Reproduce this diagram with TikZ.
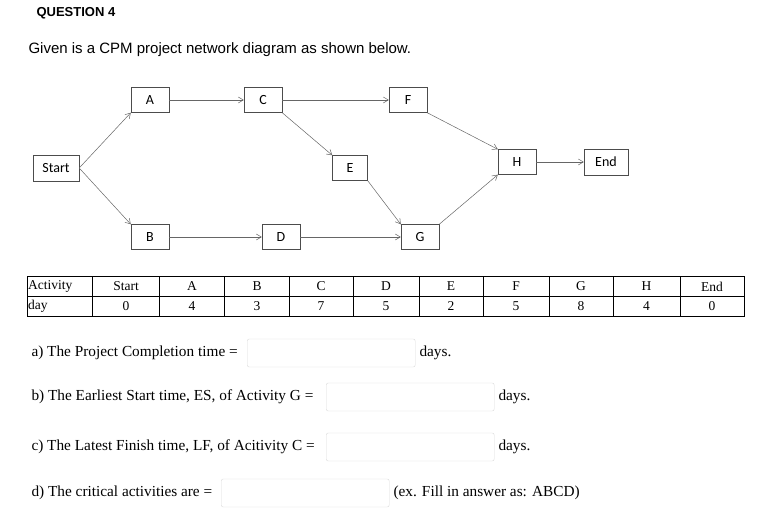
\documentclass[tikz,border=0pt]{standalone}
\usepackage{fontspec}
\setmainfont{Liberation Serif}
\newfontfamily\arialf{Liberation Sans}
\newfontfamily\calf{Carlito}
\usetikzlibrary{arrows.meta}
\begin{document}
\begin{tikzpicture}[x=1pt,y=-1pt,
  act/.style={draw=black!70,fill=white,minimum width=38pt,minimum height=25pt,font=\calf\fontsize{14}{16}\selectfont,inner sep=2pt},
  arr/.style={draw=black!60,-{Straight Barb[length=5pt,width=6pt]},line width=0.5pt},
  inbox/.style={draw=black!15,rounded corners=2pt,minimum width=168pt,minimum height=28pt,anchor=west},
  qtext/.style={anchor=west,font=\fontsize{15.3}{17}\selectfont},
  cell/.style={font=\fontsize{13.5}{15}\selectfont}]
\useasboundingbox (0,0) rectangle (761,524);
\node[anchor=west,font=\arialf\bfseries\fontsize{13}{15}\selectfont] (q) at (33,13) {QUESTION 4};
\node[anchor=west,font=\arialf\fontsize{15}{17}\selectfont] (g) at (25,50) {Given is a CPM project network diagram as shown below.};
% nodes
\node[act,minimum width=46pt,minimum height=26pt] (S) at (56,168) {Start};
\node[act] (A) at (150,100) {A};
\node[act] (C) at (263,100) {C};
\node[act] (F) at (408,100) {F};
\node[act,minimum width=35pt] (E) at (350,168) {E};
\node[act] (H) at (517,162) {H};
\node[act,minimum width=44pt,minimum height=26pt] (End) at (606,162) {End};
\node[act] (B) at (150,237) {B};
\node[act] (D) at (281,237) {D};
\node[act] (G) at (420,237) {G};
\draw[arr] (S.east) -- (A.south west);
\draw[arr] (S.east) -- (B.north west);
\draw[arr] (A) -- (C);
\draw[arr] (C) -- (F);
\draw[arr] (C.south east) -- (E.north west);
\draw[arr] (E.south east) -- (G.north west);
\draw[arr] (B) -- (D);
\draw[arr] (D) -- (G);
\draw[arr] (F.south east) -- (H.north west);
\draw[arr] (G.north east) -- (H.south west);
\draw[arr] (H) -- (End);
% table
\draw[line width=0.8pt] (27,276) rectangle (744,316);
\draw[line width=0.8pt] (27,296) -- (744,296);
\foreach \x in {92.5,159.5,224.5,289,353,419,483,549,613,680}
  \draw[line width=0.8pt] (\x,276) -- (\x,316);
\node[cell,anchor=west,inner sep=0pt] (t0) at (28,286.5) {Activity};
\node[cell,anchor=west,inner sep=0pt] (t1) at (28,306.5) {day};
\foreach \l/\v/\x in {Start/0/126,A/4/192,B/3/257,C/7/321,D/5/386,E/2/451,F/5/516,G/8/581,H/4/646.5,End/0/712}{
  \node[cell] at (\x,286.5) {\l};
  \node[cell] at (\x,306.5) {\v};
}
% questions
\node[qtext] (qa) at (28,353) {a) The Project Completion time =};
\node[inbox] (ba) at (247,353) {};
\node[qtext] (da) at (416,353) {days.};
\node[qtext] (qb) at (28,397) {b) The Earliest Start time, ES, of Activity G =};
\node[inbox] (bb) at (326,397) {};
\node[qtext] (db) at (495,397) {days.};
\node[qtext] (qc) at (28,447) {c) The Latest Finish time, LF, of Acitivity C =};
\node[inbox] (bc) at (326,447) {};
\node[qtext] (dc) at (495,447) {days.};
\node[qtext] (qd) at (28,493) {d) The critical activities are =};
\node[inbox] (bd) at (221,493) {};
\node[qtext] (dd) at (390,493) {(ex. Fill in answer as: ABCD)};
\end{tikzpicture}
\end{document}
